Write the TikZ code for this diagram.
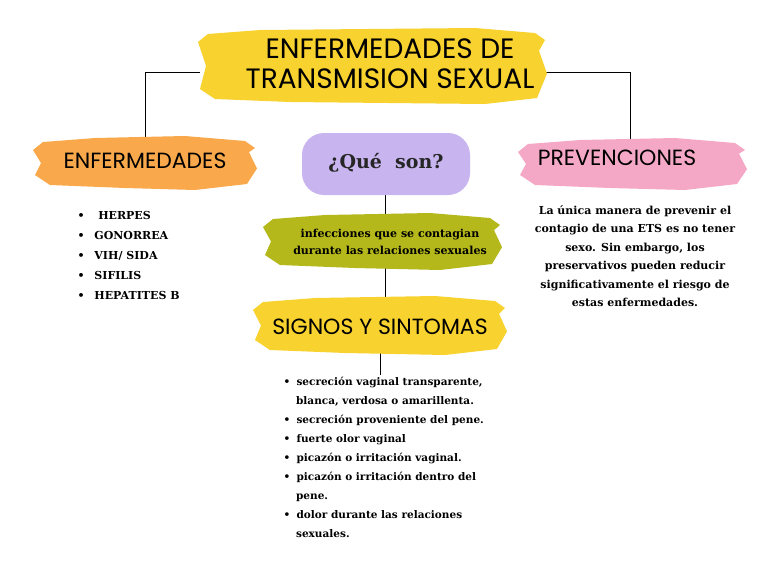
\documentclass[tikz,border=0pt]{standalone}
\usepackage{fontspec}
\setmainfont{DejaVu Serif}
\newfontfamily\titlefont{Poppins}
\usetikzlibrary{shapes.geometric}
\definecolor{yel}{HTML}{F8D22E}
\definecolor{org}{HTML}{F9A94B}
\definecolor{pur}{HTML}{C8B4EF}
\definecolor{pnk}{HTML}{F4A8C6}
\definecolor{grn}{HTML}{B4B81A}
\tikzset{conn/.style={draw=black,line width=0.9pt},
 lab/.style={font=\titlefont\fontsize{22}{24}\selectfont,align=center},
 body/.style={align=left,anchor=north west}}
\newcommand{\brush}[5]{% color, x1, y1, x2, y2
 \fill[#1] (#2+8,#3+6) -- (#2+60,#3+2) -- (#4-70,#3) -- (#4-10,#3+5) -- (#4,#3+12) -- (#4-6,#3+0.3*#5-0.3*#3) -- (#4+2,#3+0.6*#5-0.6*#3) -- (#4-8,#5-6) -- (#4-60,#5) -- (#2+90,#5-2) -- (#2+15,#5-5) -- (#2,#5-15) -- (#2+6,#3+0.5*#5-0.5*#3) -- (#2-2,#3+14) -- cycle;}
\begin{document}
\begin{tikzpicture}[x=1pt,y=-1pt]
\useasboundingbox (0,0) rectangle (768,576);
\fill[white] (0,0) rectangle (768,576);
% connectors
\coordinate (tl) at (200,72); \coordinate (cl) at (145,140);
\coordinate (tr) at (545,72); \coordinate (cr) at (630,140);
\draw[conn] (tl) -- (145,72) -- (cl);
\draw[conn] (tr) -- (630,72) -- (cr);
\draw[conn] (385,195) -- (385,300);
\draw[conn] (380,350) -- (380,375);
% brushes
\brush{yel}{200}{28}{545}{104}
\brush{org}{35}{136}{255}{190}
\brush{pnk}{520}{138}{745}{190}
\brush{grn}{265}{213}{500}{270}
\brush{yel}{255}{296}{505}{355}
\node[fill=pur,rounded corners=22pt,minimum width=168pt,minimum height=62pt] (q) at (386,164) {};
% texts
\node[lab,font=\titlefont\fontsize{28}{30}\selectfont] (t) at (390,64) {ENFERMEDADES DE\\TRANSMISION SEXUAL};
\node[lab] (e) at (145,161) {ENFERMEDADES};
\node[lab] (p) at (617,158) {PREVENCIONES};
\node[font=\bfseries\fontsize{19}{24}\selectfont,text=black!85] (qt) at (386,163) {¿Qué\ \ son?};
\node[font=\bfseries\fontsize{11}{17}\selectfont,align=center] (g) at (390,242) {infecciones que se contagian\\durante las relaciones sexuales};
\node[lab] (s) at (380,327) {SIGNOS Y SINTOMAS};
\node[font=\bfseries\fontsize{11}{18.5}\selectfont,align=center] (pt) at (635,256) {La única manera de prevenir el\\contagio de una ETS es no tener\\sexo. Sin embargo, los\\preservativos pueden reducir\\significativamente el riesgo de\\estas enfermedades.};
\node[body,font=\bfseries\fontsize{11}{20}\selectfont] (el) at (74,208) {%
\textbullet\hspace{0.9em} HERPES\\\textbullet\hspace{0.9em}GONORREA\\\textbullet\hspace{0.9em}VIH/ SIDA\\\textbullet\hspace{0.9em}SIFILIS\\\textbullet\hspace{0.9em}HEPATITES B};
\node[body,font=\bfseries\fontsize{10.5}{19}\selectfont] (sl) at (280,374) {%
\textbullet\hspace{0.6em}secreción vaginal transparente,\\\hspace{1.2em}blanca, verdosa o amarillenta.\\
\textbullet\hspace{0.6em}secreción proveniente del pene.\\
\textbullet\hspace{0.6em}fuerte olor vaginal\\
\textbullet\hspace{0.6em}picazón o irritación vaginal.\\
\textbullet\hspace{0.6em}picazón o irritación dentro del\\\hspace{1.2em}pene.\\
\textbullet\hspace{0.6em}dolor durante las relaciones\\\hspace{1.2em}sexuales.};
\end{tikzpicture}
\end{document}
